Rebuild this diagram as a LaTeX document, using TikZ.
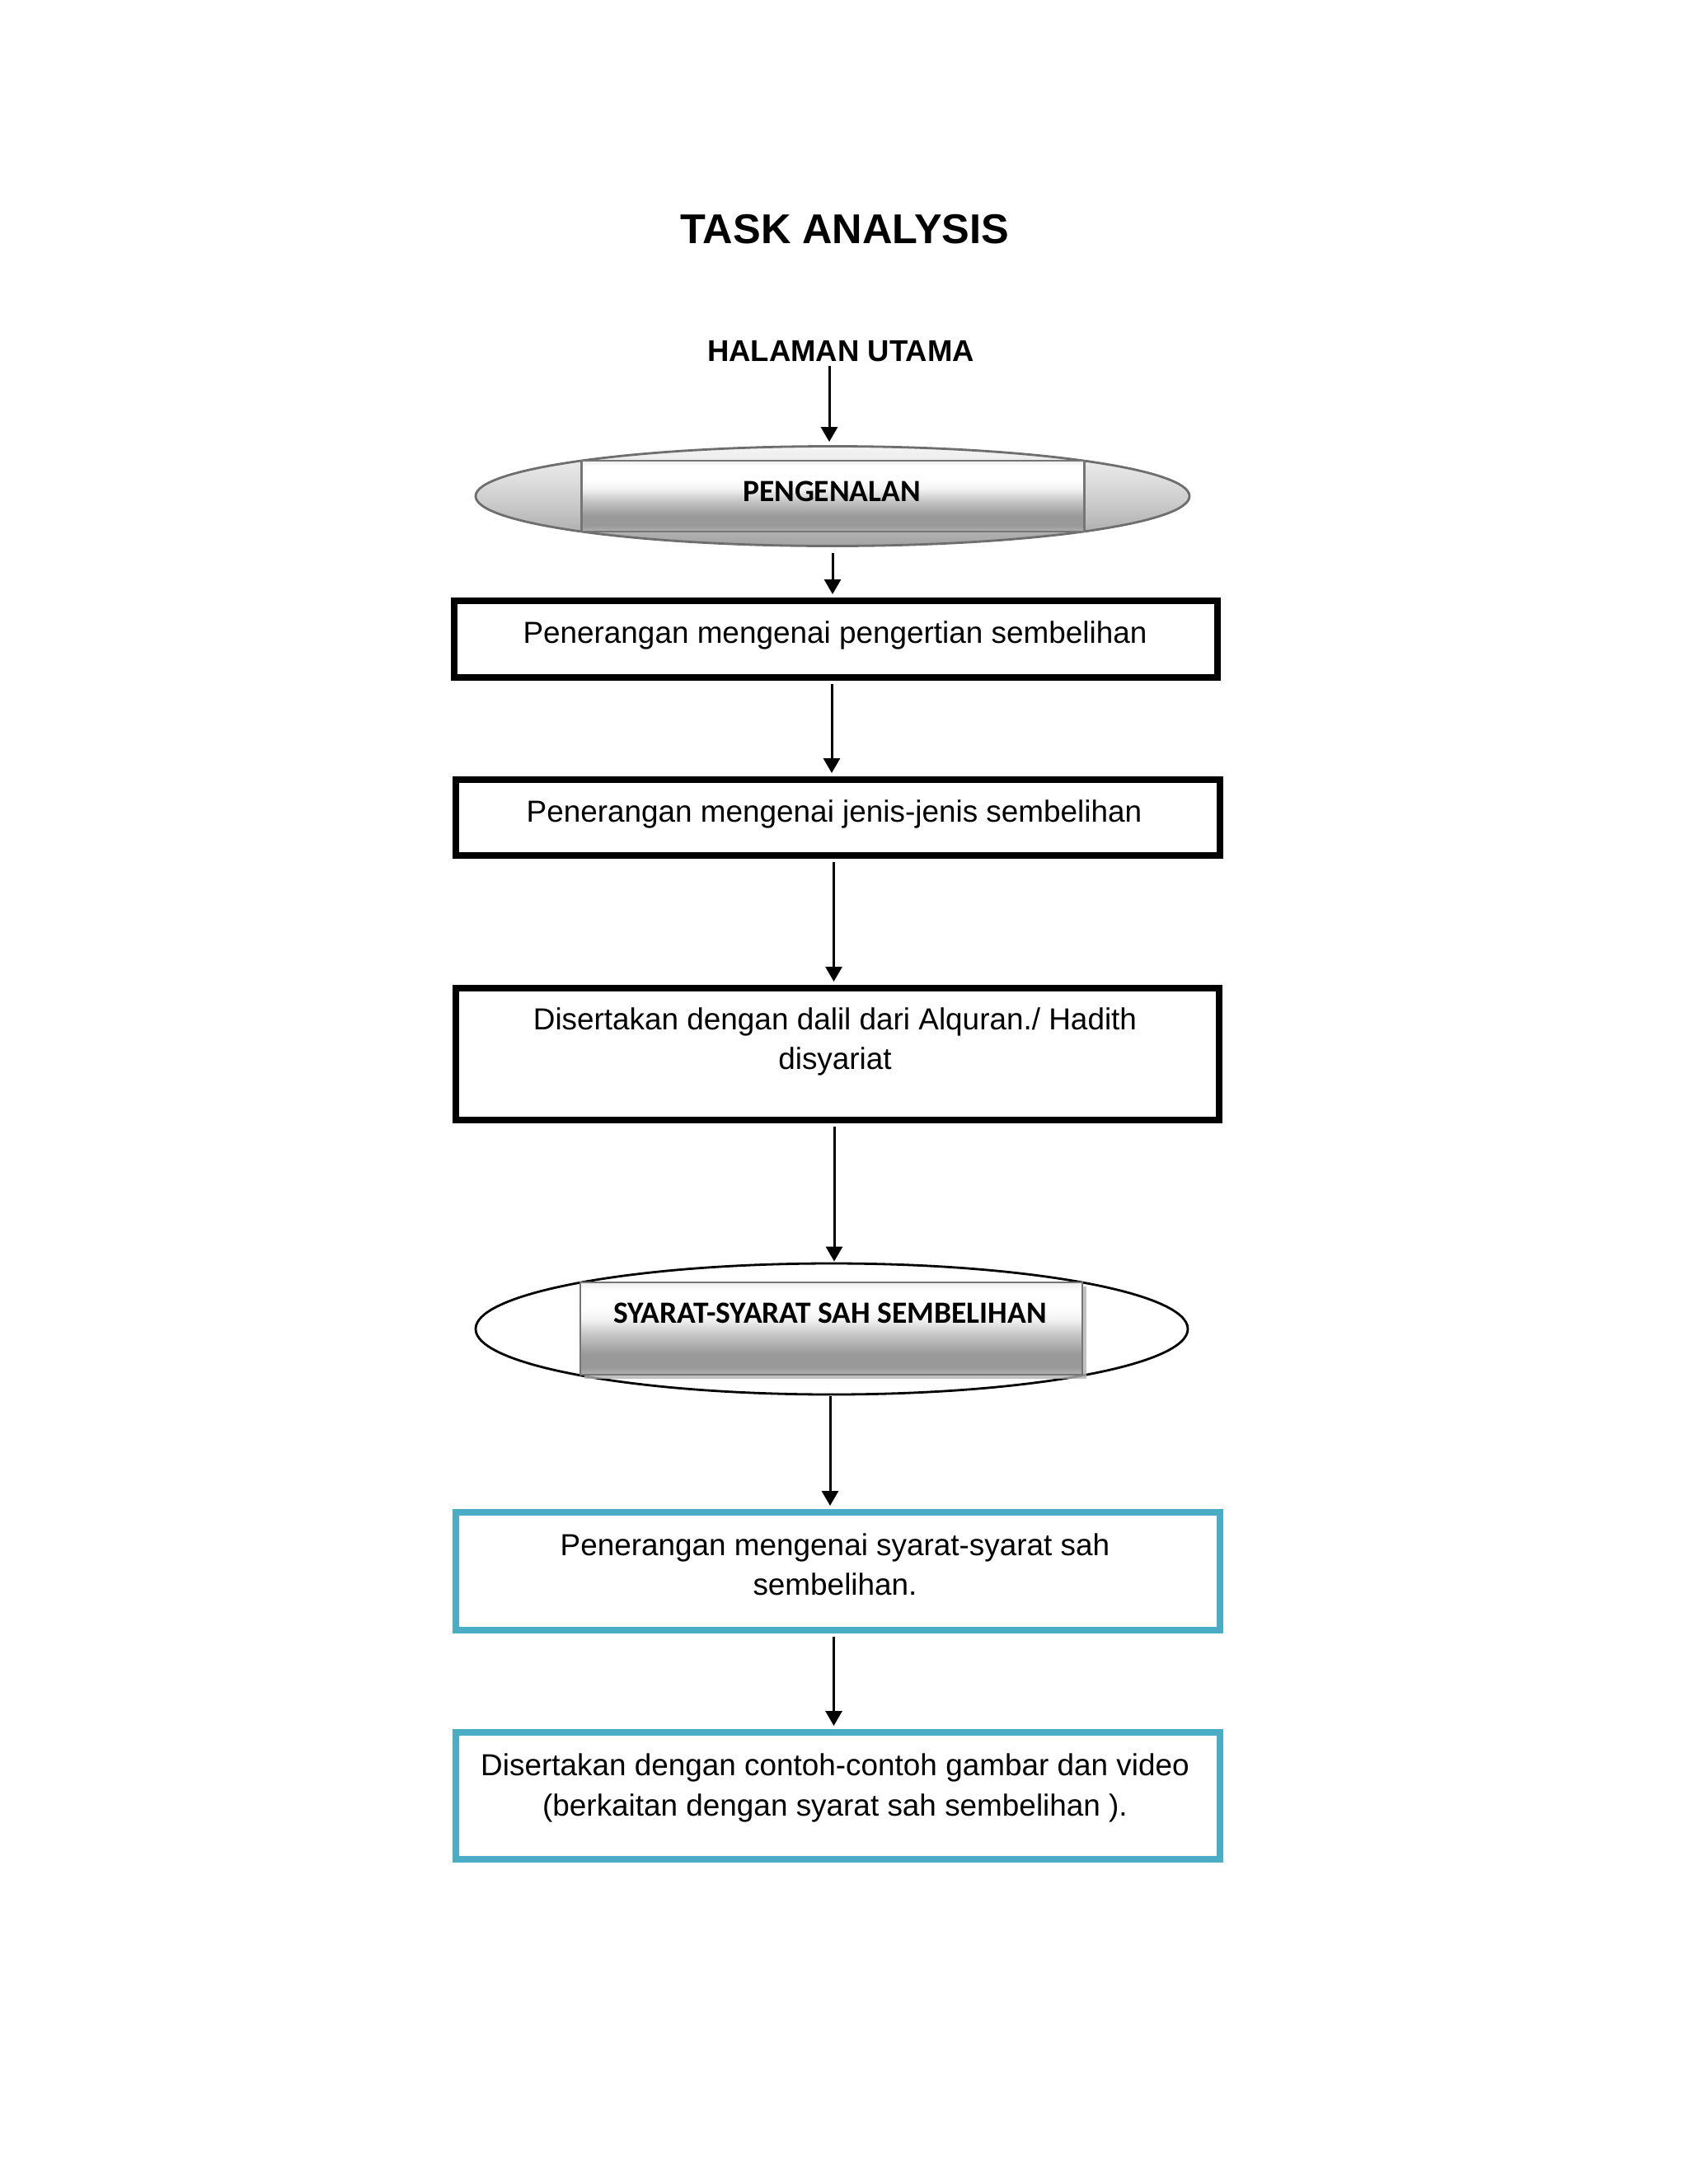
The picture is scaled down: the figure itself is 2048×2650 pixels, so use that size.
\documentclass[tikz,border=0pt]{standalone}
\usepackage{fontspec}
\setmainfont{Liberation Sans}
\newfontfamily\carlito{Carlito}
\usetikzlibrary{arrows.meta,shapes.geometric,shadows}

\definecolor{boxblue}{HTML}{4BACC6}
\definecolor{capline}{HTML}{6E6E6E}
\definecolor{barline}{HTML}{757575}
\pgfdeclareverticalshading{capsfill}{100bp}{color(0bp)=(black!36); color(25bp)=(black!36); color(50bp)=(black!18); color(75bp)=(black!4); color(100bp)=(black!4)}
\pgfdeclareverticalshading{barfill}{100bp}{color(0bp)=(black!30); color(25bp)=(black!30); color(29bp)=(black!40); color(36bp)=(black!40); color(47bp)=(black!22); color(55bp)=(black!5); color(62bp)=(white); color(71bp)=(white); color(75bp)=(black!7); color(100bp)=(black!7)}

\tikzset{
  arr/.style={line width=3pt, -{Triangle[width=20pt,length=18pt]}},
  capsule/.style={ellipse, line width=2.8pt, inner sep=0pt},
  bar/.style={rectangle, draw=barline, line width=2.6pt, shading=barfill, inner sep=0pt},
  blackbox/.style={rectangle, draw=black, line width=8pt, inner sep=0pt, minimum width=927pt},
  bluebox/.style={rectangle, draw=boxblue, line width=8pt, inner sep=0pt, minimum width=927pt},
  boxtext/.style={anchor=base, inner sep=0pt, font=\fontsize{36.9}{48}\selectfont},
  captext/.style={anchor=base, inner sep=0pt, font=\carlito\bfseries\fontsize{37.5}{40}\selectfont}
}

\begin{document}
\begin{tikzpicture}[x=1pt,y=-1pt]
\useasboundingbox (0,0) rectangle (2048,2650);
\fill[white] (0,0) rectangle (2048,2650);

% headings
\node[anchor=base, inner sep=0pt, font=\bfseries\fontsize{50.5}{60}\selectfont] (title) at (1025,295) {TASK ANALYSIS};
\node[anchor=base, inner sep=0pt, font=\bfseries\fontsize{36.5}{40}\selectfont] (home) at (1020,438) {HALAMAN UTAMA};

% PENGENALAN capsule
\node[capsule, draw=capline, shading=capsfill, minimum width=866pt, minimum height=121pt] (e1) at (1010,602) {};
\node[bar, minimum width=610pt, minimum height=86pt] (r1) at (1010.5,602) {};
\node[captext] (t1) at (1009,608) {PENGENALAN};

% boxes
\node[blackbox, minimum width=926pt, minimum height=93pt] (b1) at (1014,775.5) {};
\node[boxtext] (t2) at (1013,780) {Penerangan mengenai pengertian sembelihan};

\node[blackbox, minimum height=92pt] (b2) at (1016.5,992) {};
\node[boxtext] (t3) at (1012,997) {Penerangan mengenai jenis-jenis sembelihan};

\node[blackbox, minimum width=926pt, minimum height=160pt] (b3) at (1016,1279) {};
\node[boxtext] (t4a) at (1013,1249) {Disertakan dengan dalil dari Alquran./ Hadith};
\node[boxtext] (t4b) at (1013,1297) {disyariat};

% SYARAT capsule
\node[capsule, draw=black, fill=white, minimum width=864pt, minimum height=159pt] (e2) at (1009,1612.5) {};
\node[bar, minimum width=609pt, minimum height=112pt,
      drop shadow={shadow xshift=5pt, shadow yshift=-5pt, fill=black!30, opacity=0.8}] (r2) at (1008.5,1612) {};
\node[captext] (t5) at (1007,1605) {SYARAT-SYARAT SAH SEMBELIHAN};

% blue boxes
\node[bluebox, minimum height=143pt] (b4) at (1016.5,1906.5) {};
\node[boxtext] (t6a) at (1013,1887) {Penerangan mengenai syarat-syarat sah};
\node[boxtext] (t6b) at (1013,1935) {sembelihan.};

\node[bluebox, minimum height=154pt] (b5) at (1016.5,2179) {};
\node[boxtext] (t7a) at (1013,2154) {Disertakan dengan contoh-contoh gambar dan video};
\node[boxtext] (t7b) at (1013,2203) {(berkaitan dengan syarat sah sembelihan ).};

% connectors
\draw[arr, shorten <=5pt, shorten >=4pt] ([xshift=-4pt]home.south -| e1.north) -- ([xshift=-4pt]e1.north);
\draw[arr, shorten <=7pt, shorten >=4pt] (e1.south) -- (e1.south |- b1.north);
\draw[arr, shorten <=4pt, shorten >=4pt] ([xshift=-5pt]b1.south) -- ([xshift=-5pt]b1.south |- b2.north);
\draw[arr, shorten <=4pt, shorten >=4pt] ([xshift=-5pt]b2.south) -- ([xshift=-5pt]b2.south |- b3.north);
\draw[arr, shorten <=4pt, shorten >=1pt] ([xshift=-4pt]b3.south) -- ([xshift=-4pt]b3.south |- e2.north);
\draw[arr, shorten <=1pt, shorten >=4pt] ([xshift=-2pt]e2.south) -- ([xshift=-2pt]e2.south |- b4.north);
\draw[arr, shorten <=4pt, shorten >=4pt] ([xshift=-5pt]b4.south) -- ([xshift=-5pt]b4.south |- b5.north);
\end{tikzpicture}
\end{document}
